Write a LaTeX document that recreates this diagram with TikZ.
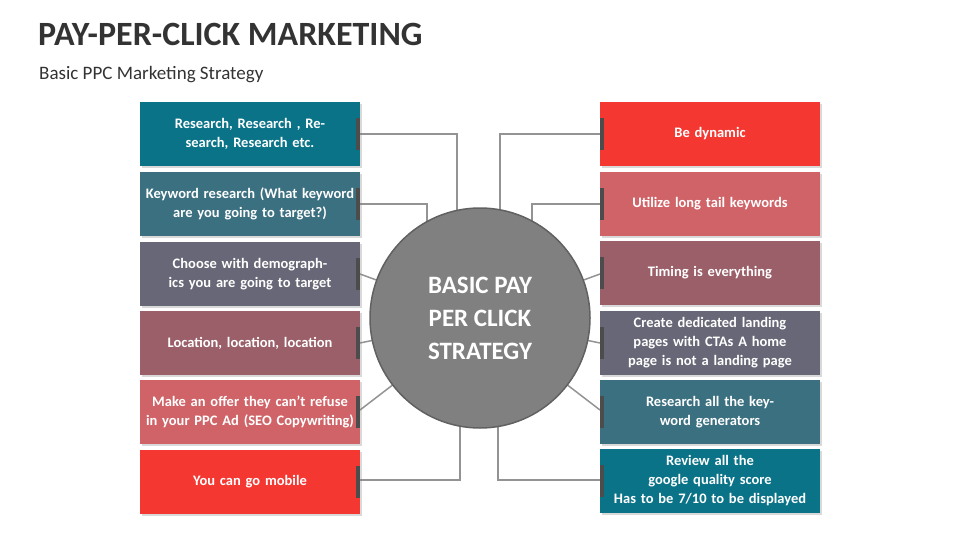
\documentclass[tikz,border=0pt]{standalone}
\usepackage{fontspec}
\setmainfont{Carlito}
\usetikzlibrary{shadows}
\begin{document}
\begin{tikzpicture}[x=1pt,y=-1pt,
  box/.style={minimum width=220pt,minimum height=64pt,text width=210pt,align=center,text=white,font=\fontsize{14.5}{19}\selectfont\bfseries,inner sep=0pt,drop shadow={opacity=0.3}},
  conn/.style={draw=gray!85,line width=1.5pt},
  tab/.style={fill=black!70,minimum width=4pt,minimum height=32pt,inner sep=0pt}]
\useasboundingbox (0,0) rectangle (960,540);
\definecolor{cA}{HTML}{0B7388}\definecolor{cB}{HTML}{3B7080}
\definecolor{cC}{HTML}{676777}\definecolor{cD}{HTML}{9A5F68}
\definecolor{cE}{HTML}{D06367}\definecolor{cF}{HTML}{F53732}
\node[anchor=base west,font=\fontsize{34}{34}\selectfont\bfseries,text=black!80,inner sep=0pt] (title) at (38,46) {PAY-PER-CLICK MARKETING};
\node[anchor=base west,font=\fontsize{19}{19}\selectfont,text=black!80,inner sep=0pt] (sub) at (39,80) {Basic PPC Marketing Strategy};
\coordinate (c) at (480,318);
\coordinate (l1) at (457,134); \coordinate (l2) at (427,204);
\coordinate (l6) at (460,480);
\coordinate (r1) at (500,134); \coordinate (r2) at (532,204);
\coordinate (r6) at (498,480);
\draw[conn] (360,134) -- (l1) -- (457,300);
\draw[conn] (360,204) -- (l2) -- (427,300);
\draw[conn] (360,274) -- (c);
\draw[conn] (360,343) -- (c);
\draw[conn] (360,410) -- (c);
\draw[conn] (360,480) -- (l6) -- (460,330);
\draw[conn] (600,134) -- (r1) -- (500,300);
\draw[conn] (600,204) -- (r2) -- (532,300);
\draw[conn] (600,274) -- (c);
\draw[conn] (600,343) -- (c);
\draw[conn] (600,410) -- (c);
\draw[conn] (600,480) -- (r6) -- (498,330);
\node[circle,minimum size=220pt,fill=black!50,draw=black!62,line width=1.5pt,text=white,align=center,font=\fontsize{25}{33}\selectfont\bfseries] (hub) at (c) {BASIC PAY\\PER CLICK\\STRATEGY};
\node[box,fill=cA] (L1) at (250,134) {Research, Research , Research, Research etc.};
\node[box,fill=cB] (L2) at (250,204) {Keyword research (What keyword are you going to target?)};
\node[box,fill=cC] (L3) at (250,274) {Choose with demographics you are going to target};
\node[box,fill=cD] (L4) at (250,343) {Location, location, location};
\node[box,fill=cE] (L5) at (250,412) {Make an offer they can’t refuse in your PPC Ad (SEO Copywriting)};
\node[box,fill=cF] (L6) at (250,482) {You can go mobile};
\foreach \n in {L1,L2,L3,L4,L5,L6} \node[tab] (t\n) at ([xshift=-2pt]\n.east) {};
\node[box,fill=cF] (R1) at (710,134) {Be dynamic};
\node[box,fill=cE] (R2) at (710,204) {Utilize long tail keywords};
\node[box,fill=cD] (R3) at (710,273) {Timing is everything};
\node[box,fill=cC] (R4) at (710,343) {Create dedicated landing pages with CTAs A home page is not a landing page};
\node[box,fill=cB] (R5) at (710,412) {Research all the keyword generators};
\node[box,fill=cA] (R6) at (710,481) {Review all the google quality score\\Has to be 7/10 to be displayed};
\foreach \n in {R1,R2,R3,R4,R5,R6} \node[tab] (t\n) at ([xshift=2pt]\n.west) {};
\end{tikzpicture}
\end{document}
